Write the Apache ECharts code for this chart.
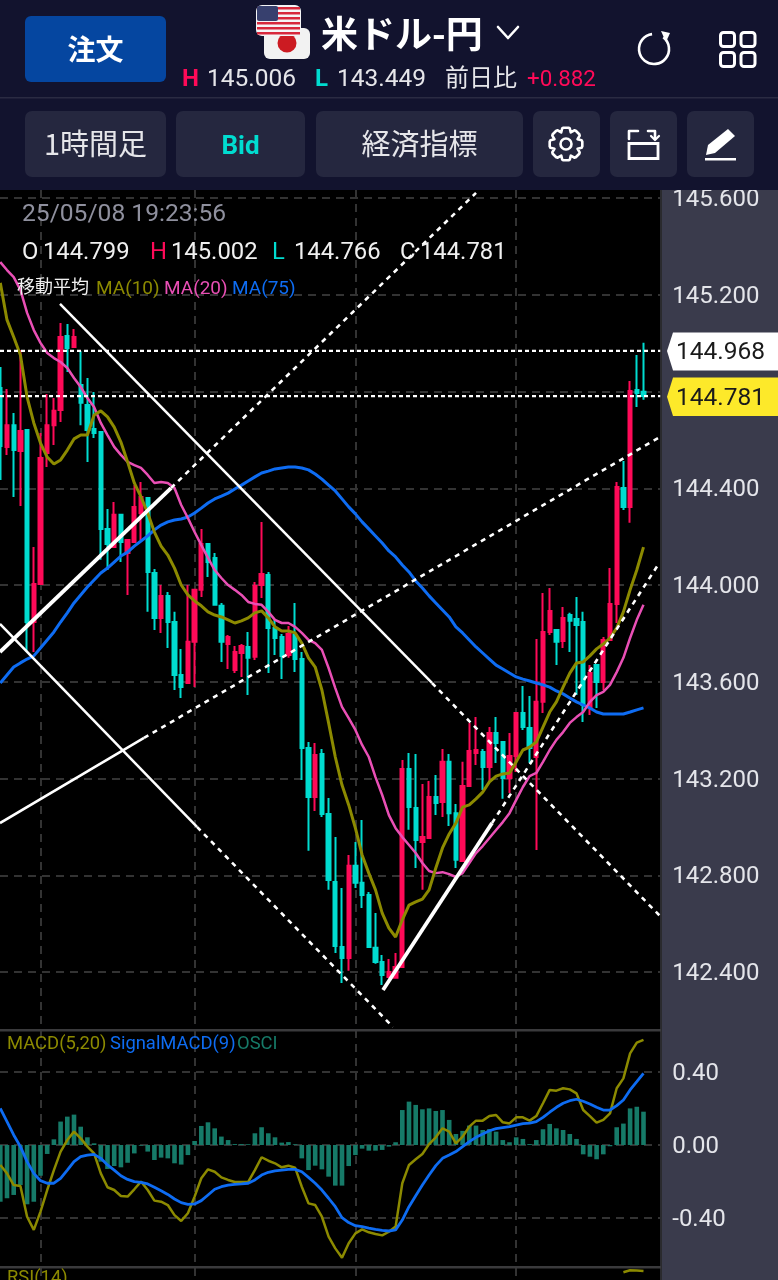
<!DOCTYPE html>
<html><head><meta charset="utf-8">
<style>html,body{margin:0;padding:0;background:#000}#c{width:778px;height:1280px}</style>
<script src="https://cdn.jsdelivr.net/npm/echarts@6/dist/echarts.min.js"></script>
</head><body><div id="c"></div>
<script>
const highs=[144.901,144.810,144.711,144.972,144.641,144.157,144.628,144.790,144.773,145.083,145.079,145.058,144.967,144.856,144.798,144.633,144.314,144.343,144.290,144.186,144.413,144.426,144.364,144.066,144.000,143.971,143.889,143.736,144.000,143.980,144.232,144.170,144.132,143.926,143.793,143.748,143.756,143.806,144.013,144.261,144.054,143.856,143.798,143.831,143.926,143.723,143.351,143.347,143.322,143.120,142.958,142.748,142.884,142.938,143.029,142.731,142.644,142.471,142.454,142.479,143.277,143.306,143.301,143.177,143.190,143.215,143.322,143.301,143.095,143.269,143.430,143.454,143.322,143.413,143.454,143.355,143.388,143.471,143.583,143.541,143.777,143.967,143.988,143.814,143.909,143.885,143.951,143.889,143.669,143.674,143.785,144.070,144.426,144.513,144.843,144.951,145.002];
const opens=[144.814,144.571,144.661,144.554,144.641,143.847,144.004,144.546,144.661,144.724,145.029,144.984,144.827,144.744,144.645,144.633,144.232,144.157,144.290,144.132,144.178,144.298,144.360,144.050,143.864,143.955,143.847,143.628,143.595,143.765,143.980,144.170,144.112,143.914,143.756,143.649,143.719,143.744,143.703,144.000,144.041,143.822,143.785,143.711,143.793,143.694,143.326,143.124,143.301,143.053,142.772,142.504,142.458,142.839,142.769,142.719,142.500,142.442,142.380,142.376,142.421,143.239,143.078,142.938,142.954,143.124,143.103,143.269,143.057,142.859,143.169,143.306,143.310,143.248,143.388,143.351,143.202,143.293,143.471,143.409,143.289,143.517,143.806,143.814,143.769,143.876,143.860,143.847,143.496,143.669,143.599,143.773,143.922,144.401,144.323,144.806,144.799];
const closes=[144.575,144.661,144.558,144.637,143.847,144.004,144.525,144.661,144.720,145.025,144.980,145.025,144.753,144.641,144.628,144.232,144.170,144.290,144.178,144.186,144.323,144.364,144.054,143.864,143.955,143.847,143.628,143.578,143.765,143.980,144.170,144.095,143.918,143.765,143.785,143.723,143.748,143.699,143.996,144.046,143.822,143.781,143.707,143.798,143.694,143.326,143.124,143.297,143.053,142.781,142.508,142.458,142.839,142.769,142.719,142.504,142.442,142.388,142.400,142.421,143.239,143.082,142.946,142.958,143.124,143.099,143.269,143.057,142.864,143.169,143.314,143.318,143.248,143.388,143.347,143.202,143.293,143.471,143.413,143.326,143.517,143.806,143.893,143.765,143.864,143.852,143.835,143.504,143.636,143.599,143.773,143.922,144.405,144.323,144.802,144.794,144.781];
const lows=[144.434,144.538,144.364,144.327,143.723,143.723,144.004,144.488,144.579,144.674,144.881,144.984,144.661,144.509,144.608,144.104,144.062,144.153,144.095,143.959,144.174,144.186,143.889,143.814,143.802,143.740,143.566,143.533,143.595,143.578,143.951,144.033,143.918,143.682,143.653,143.636,143.620,143.545,143.690,143.946,143.636,143.711,143.612,143.699,143.640,143.194,142.901,143.066,143.041,142.740,142.479,142.355,142.405,142.748,142.665,142.500,142.434,142.347,142.376,142.376,142.417,142.988,142.830,142.740,142.954,143.049,143.041,143.004,142.830,142.859,143.169,143.256,143.153,143.190,143.264,143.116,143.140,143.227,143.401,143.264,142.905,143.471,143.793,143.669,143.740,143.723,143.545,143.434,143.463,143.492,143.566,143.773,143.843,144.310,144.257,144.736,144.766];
const ma10=[145.249,145.096,145.025,144.951,144.777,144.670,144.587,144.529,144.500,144.517,144.558,144.604,144.620,144.620,144.703,144.720,144.695,144.653,144.591,144.509,144.422,144.364,144.298,144.219,144.161,144.124,144.070,144.000,143.959,143.934,143.914,143.889,143.876,143.868,143.856,143.843,143.852,143.864,143.885,143.893,143.864,143.827,143.810,143.810,143.802,143.760,143.699,143.661,143.566,143.430,143.289,143.173,143.091,142.995,142.884,142.809,142.740,142.644,142.582,142.545,142.616,142.677,142.690,142.702,142.740,142.830,142.913,142.971,143.016,143.082,143.091,143.116,143.144,143.186,143.210,143.219,143.223,143.269,143.318,143.330,143.351,143.413,143.475,143.517,143.578,143.636,143.678,143.682,143.707,143.736,143.756,143.781,143.822,143.889,143.980,144.062,144.157];
const ma20=[145.335,145.302,145.273,145.220,145.125,145.054,145.001,144.959,144.938,144.922,144.897,144.856,144.819,144.773,144.736,144.670,144.620,144.571,144.538,144.509,144.496,144.484,144.455,144.422,144.426,144.422,144.401,144.331,144.277,144.219,144.165,144.112,144.062,144.029,144.000,143.980,143.959,143.930,143.922,143.918,143.889,143.856,143.843,143.843,143.827,143.802,143.773,143.760,143.732,143.657,143.574,143.496,143.450,143.401,143.339,143.289,143.206,143.132,143.049,142.995,142.958,142.925,142.892,142.851,142.818,142.809,142.813,142.805,142.793,142.809,142.851,142.892,142.921,142.954,142.987,143.020,143.057,143.112,143.165,143.210,143.223,143.269,143.318,143.360,143.392,143.430,143.454,143.475,143.517,143.545,143.558,143.587,143.640,143.699,143.781,143.856,143.918];
const ma75=[143.595,143.628,143.661,143.678,143.694,143.707,143.740,143.773,143.806,143.847,143.885,143.926,143.959,143.992,144.021,144.050,144.070,144.095,144.120,144.136,144.161,144.182,144.203,144.228,144.248,144.261,144.269,144.273,144.281,144.298,144.318,144.339,144.356,144.368,144.380,144.397,144.413,144.430,144.447,144.463,144.471,144.480,144.484,144.488,144.488,144.484,144.476,144.459,144.438,144.413,144.389,144.356,144.323,144.294,144.261,144.232,144.203,144.174,144.141,144.116,144.083,144.054,144.017,143.988,143.955,143.926,143.897,143.868,143.827,143.802,143.773,143.744,143.719,143.694,143.669,143.653,143.636,143.620,143.611,143.603,143.595,143.587,143.578,143.562,143.550,143.533,143.517,143.504,143.492,143.475,143.467,143.467,143.467,143.467,143.475,143.484,143.492];
const macd=[-0.109,-0.155,-0.219,-0.224,-0.392,-0.464,-0.364,-0.246,-0.137,-0.036,0.027,0.073,0.036,-0.009,-0.046,-0.155,-0.231,-0.246,-0.279,-0.282,-0.242,-0.200,-0.246,-0.304,-0.310,-0.328,-0.383,-0.415,-0.373,-0.282,-0.182,-0.133,-0.146,-0.177,-0.191,-0.202,-0.202,-0.202,-0.137,-0.067,-0.086,-0.100,-0.122,-0.113,-0.124,-0.228,-0.319,-0.328,-0.392,-0.501,-0.565,-0.616,-0.537,-0.483,-0.461,-0.477,-0.486,-0.494,-0.474,-0.446,-0.209,-0.109,-0.078,-0.049,0.005,0.042,0.091,0.073,0.009,0.046,0.100,0.133,0.133,0.158,0.164,0.124,0.118,0.151,0.151,0.133,0.158,0.228,0.301,0.297,0.310,0.304,0.282,0.191,0.158,0.122,0.137,0.173,0.310,0.364,0.501,0.559,0.574];
const signal=[0.200,0.128,0.055,-0.009,-0.091,-0.155,-0.195,-0.209,-0.209,-0.182,-0.137,-0.091,-0.064,-0.055,-0.051,-0.073,-0.109,-0.137,-0.168,-0.188,-0.200,-0.204,-0.213,-0.231,-0.250,-0.270,-0.295,-0.315,-0.324,-0.322,-0.304,-0.273,-0.242,-0.228,-0.219,-0.215,-0.213,-0.209,-0.191,-0.164,-0.149,-0.142,-0.137,-0.133,-0.133,-0.146,-0.177,-0.209,-0.246,-0.291,-0.337,-0.397,-0.424,-0.441,-0.446,-0.454,-0.461,-0.466,-0.470,-0.464,-0.410,-0.337,-0.277,-0.219,-0.164,-0.113,-0.073,-0.055,-0.036,-0.009,0.018,0.042,0.060,0.078,0.089,0.095,0.100,0.109,0.117,0.120,0.128,0.151,0.179,0.206,0.228,0.242,0.250,0.239,0.224,0.206,0.191,0.191,0.215,0.246,0.301,0.346,0.392];
const osci=[-0.310,-0.291,-0.273,-0.219,-0.324,-0.310,-0.168,-0.049,0.031,0.128,0.155,0.166,0.100,0.042,0.009,-0.091,-0.131,-0.115,-0.122,-0.097,-0.046,-0.004,-0.036,-0.082,-0.069,-0.073,-0.100,-0.107,-0.055,0.022,0.104,0.124,0.091,0.046,0.027,0.005,0.005,0.004,0.064,0.097,0.064,0.042,0.013,0.016,0.004,-0.073,-0.137,-0.113,-0.133,-0.173,-0.222,-0.222,-0.115,-0.055,-0.020,-0.031,-0.031,-0.027,-0.009,0.015,0.191,0.237,0.219,0.195,0.200,0.186,0.191,0.137,0.060,0.077,0.106,0.106,0.082,0.087,0.073,0.027,0.015,0.042,0.033,0.005,0.027,0.086,0.115,0.091,0.082,0.060,0.033,-0.051,-0.064,-0.078,-0.051,-0.007,0.097,0.117,0.200,0.209,0.182];
const rsiVisible=[[93,92.9],[94,96.25],[95,96.0],[96,95.2]];
const priceTicks=[142.4,142.8,143.2,143.6,144.0,144.4,144.8,145.2,145.6];
const macdTicks=[-0.4,0,0.4];
const dayLines=[6,29,53,77];
const currentBid=144.968, lastClose=144.781;
// drawn trend lines: [bar index, price]
const solidA=[[-0.05,143.723],[25.48,144.401]], dashA=[[25.48,144.401],[71.0,145.621]];
const solidB=[[8.91,145.162],[64.43,143.595]], dashB=[[64.43,143.595],[98.46,142.632]];
const solidC=[[-0.05,143.839],[29.36,143.000]], dashC=[[29.36,143.000],[58.61,142.173]];
const solidD=[[-0.05,143.016],[21.45,143.368]], dashD=[[21.45,143.368],[98.46,144.612]];
const solidE=[[57.12,142.326],[73.39,143.016]], dashE=[[73.39,143.016],[98.16,144.083]];

const FF='Roboto,"Noto Sans CJK JP",sans-serif', JP='"Noto Sans CJK JP",Roboto,sans-serif';
const RED='#ff0a58',CY='#00dcd0',OL='#8c8a00',PK='#e94fb5',BL='#0e6cf2',TEAL='#167a68',GRIDC='#333333',WH='#ffffff';
const withIndex=a=>a.map((v,i)=>[i,v]);
const cand=highs.map((h,i)=>[i,opens[i],closes[i],lows[i],h]);
const GT=[190,1030,1268],GH=[840,237,240];
const gridLine={show:true,lineStyle:{color:GRIDC,width:2,type:[8,6]}};
function xAx(g){return {type:'value',gridIndex:g,min:-0.045,max:98.5,axisLine:{show:false},axisLabel:{show:false},axisTick:{show:false,customValues:dayLines},splitLine:gridLine};}
function lineS(data,color,width,xi,z,dash){return {type:'line',xAxisIndex:xi,yAxisIndex:xi,data:data,symbol:'none',silent:true,clip:true,z:z,
 lineStyle:{color:color,width:width,type:dash||'solid',cap:'butt'},animation:false};}
const DASH=[5,5];
const series=[
 {type:'bar',xAxisIndex:1,yAxisIndex:1,data:withIndex(osci),barWidth:4.6,itemStyle:{color:TEAL},z:2,silent:true,animation:false},
 {type:'candlestick',xAxisIndex:0,yAxisIndex:0,data:cand,barWidth:3.8,z:2,silent:true,animation:false,
  itemStyle:{color:RED,color0:CY,borderColor:RED,borderColor0:CY,borderWidth:2}},
 lineS(withIndex(ma75),BL,3,0,3),lineS(withIndex(ma20),PK,2.5,0,3),lineS(withIndex(ma10),OL,3,0,3),
 lineS(withIndex(macd),OL,2.5,1,3),lineS(withIndex(signal),BL,2.8,1,3),
 lineS(rsiVisible,OL,2.5,2,3),
 lineS(solidA,WH,3.8,0,4),lineS(solidB,WH,2.5,0,4),lineS(solidC,WH,2.5,0,4),lineS(solidD,WH,2.5,0,4),lineS(solidE,WH,3.8,0,4),
 lineS(dashA,WH,2.6,0,4,DASH),lineS(dashB,WH,2.6,0,4,DASH),lineS(dashC,WH,2.6,0,4,DASH),lineS(dashD,WH,2.6,0,4,DASH),lineS(dashE,WH,2.6,0,4,DASH),
 lineS([[-0.045,currentBid],[98.5,currentBid]],WH,2.2,0,4,[4,3]),
 lineS([[-0.045,lastClose],[98.5,lastClose]],WH,2.2,0,4,[4,3])
];
function T(t,x,y,s,c,o){o=o||{};const yy=(o.f===JP)?y:y+2;return {type:'text',z:o.z||100,style:{text:t,x:x,y:yy,fill:c,align:o.a||'left',verticalAlign:'middle',font:(o.b?'bold ':'')+s+'px '+(o.f||FF)}};}
function R(x,y,w,h,c,r,z){return {type:'rect',z:z||99,shape:{x:x,y:y,width:w,height:h,r:r||0},style:{fill:c}};}
function SR(x,y,w,h,r){return {type:'rect',z:100,shape:{x:x,y:y,width:w,height:h,r:r},style:{fill:'none',stroke:WH,lineWidth:3}};}
function LN(pts,w,c){return {type:'polyline',z:100,shape:{points:pts},style:{fill:'none',stroke:c||WH,lineWidth:w,lineCap:'round',lineJoin:'round'}};}
const HB='#12132e',BTN='#25273f';
const g=[
 R(661,190,117,1090,'#3a3b4c',0,-1),
 R(660,190,2,1090,'#2a2a2e',0,1),
 R(0,1029,661,2.4,'#3a3a3c',0,5),R(0,1266,661,2.4,'#3a3a3c',0,5),
 R(0,0,778,190,HB),R(0,97,778,1.5,'#2a2b42'),
 R(25,16,141,66,'#0546a0',6),T('注文',95.5,49,28,WH,{a:'center',b:1,f:JP}),
 R(264,28,46,31,'#f2f2f2',6),{type:'circle',z:100,shape:{cx:287,cy:43,r:9.5},style:{fill:'#cc1b22'}},
 R(256,5,45,31,'#f4f4f6',6,100),
 ...[0,1,2,3,4,5].map(k=>R(257,7+k*5,43,2.6,'#d8283c',0,101)),
 R(257,6,21,15,'#37406e',2,102),
 T('米ドル-円',321,34,37,WH,{b:1,f:JP}),
 LN([[498,27],[508,38],[518,27]],2.6),
 T('H',182,78,24,RED,{b:1}),T('145.006',207,78,24.5,'#e6e6ea'),
 T('L',315,78,24,CY,{b:1}),T('143.449',337,78,24.5,'#e6e6ea'),
 T('前日比',445,77,24,'#e6e6ea',{f:JP}),T('+0.882',527,78,22.4,RED),
 {type:'arc',z:100,shape:{cx:654,cy:49,r:15,startAngle:-0.9,endAngle:-1.7,clockwise:true},style:{fill:'none',stroke:WH,lineWidth:2.6}},
 {type:'polygon',z:100,shape:{points:[[661,31],[670,33],[666,42]]},style:{fill:WH}},
 SR(720.5,32.5,14,14,3),SR(741,32.5,14,14,3),SR(720.5,52.5,14,14,3),SR(741,52.5,14,14,3),
 R(25,111,141,66,BTN,7),T('1時間足',95.5,144,29,'#e6e6ea',{a:'center',f:JP}),
 R(176,111,129,66,BTN,7),T('Bid',240.5,145,26,CY,{a:'center',b:1}),
 R(316,111,207,66,BTN,7),T('経済指標',419.5,144,29,'#e6e6ea',{a:'center',f:JP}),
 R(533,111,67,66,BTN,7),R(610,111,67,66,BTN,7),R(687,111,67,66,BTN,7),
 {type:'polygon',z:100,shape:{points:(()=>{const p=[];for(let k=0;k<8;k++){const a=k*Math.PI/4;[[-0.24,16],[-0.15,16.5],[0.15,16.5],[0.24,16],[0.39,12.5]].forEach(v=>p.push([566+v[1]*Math.cos(a+v[0]),144+v[1]*Math.sin(a+v[0])]));}return p;})()},style:{fill:'none',stroke:WH,lineWidth:2.6,lineJoin:'round'}},
 {type:'circle',z:100,shape:{cx:566,cy:144,r:5.5},style:{fill:'none',stroke:WH,lineWidth:2.6}},
 {type:'rect',z:100,shape:{x:629,y:143.5,width:29,height:15},style:{fill:'none',stroke:WH,lineWidth:2.8}},
 LN([[629,139],[629,131],[638,131]],2.6),LN([[648,131],[655,131],[655,139]],2.6),LN([[651,136],[655,140],[659,136]],2.2),
 {type:'polygon',z:100,shape:{points:[[728,129],[735,136],[715,153],[706,155],[708,145]]},style:{fill:WH}},
 R(705,158,31,2.5,WH,0,100),
 T('25/05/08 19:23:56',22,213,24.6,'#8f909e',{z:10}),
 T('O',22,251.5,23.8,'#f0f0f0',{z:10}),T('144.799',43,251.5,23.8,'#f0f0f0',{z:10}),
 T('H',150,251.5,23.8,RED,{z:10}),T('145.002',171,251.5,23.8,'#f0f0f0',{z:10}),
 T('L',272,251.5,23.8,CY,{z:10}),T('144.766',294,251.5,23.8,'#f0f0f0',{z:10}),
 T('C',400,251.5,23.8,'#f0f0f0',{z:10}),T('144.781',420,251.5,23.8,'#f0f0f0',{z:10}),
 T('移動平均',17,286,18,'#f0f0f0',{z:10,f:JP}),T('MA(10)',96,287,19,OL,{z:10}),T('MA(20)',164,287,19,PK,{z:10}),T('MA(75)',232,287,19,BL,{z:10}),
 T('MACD(5,20)',7,1042,18.4,OL,{z:10}),T('SignalMACD(9)',110,1042,18.4,BL,{z:10}),T('OSCI',237,1042,18.4,TEAL,{z:10}),
 T('RSI(14)',7,1276,18.4,OL,{z:10}),
 {type:'polygon',z:20,shape:{points:[[667,351],[673,332.5],[778,332.5],[778,370.5],[673,370.5]]},style:{fill:'#ffffff'}},
 T('144.968',676,351,24.5,'#1a1a1a',{z:21}),
 {type:'polygon',z:20,shape:{points:[[667,396.7],[673,377.5],[778,377.5],[778,416],[673,416]]},style:{fill:'#fde92a'}},
 T('144.781',676,397,24.5,'#1a1a1a',{z:21})
];
const yLabel=(d)=>({show:true,margin:12,align:'left',formatter:v=>'{a|'+v.toFixed(d)+'}',
 rich:{a:{color:'#e4e5ea',fontSize:24,fontFamily:'Roboto',padding:[4,0,0,0],align:'left'}}});
const chart=echarts.init(document.getElementById('c'),null,{renderer:'canvas'});
chart.setOption({
 animation:false,backgroundColor:'#000000',
 grid:[0,1,2].map(i=>({left:0,top:GT[i],width:660.25,height:GH[i],containLabel:false})),
 xAxis:[xAx(0),xAx(1),xAx(2)],
 yAxis:[
  {type:'value',gridIndex:0,position:'right',min:142.1605,max:145.633,axisLine:{show:false},axisTick:{show:false,customValues:priceTicks},axisLabel:{...yLabel(3),customValues:priceTicks},splitLine:gridLine},
  {type:'value',gridIndex:1,position:'right',min:-0.6667,max:0.6284,axisLine:{show:false},axisTick:{show:false,customValues:macdTicks},axisLabel:{...yLabel(2),customValues:macdTicks},splitLine:gridLine},
  {type:'value',gridIndex:2,position:'right',min:0,max:100,axisLine:{show:false},axisTick:{show:false},axisLabel:{show:false},splitLine:{show:false}}
 ],
 tooltip:{show:false},legend:{show:false},
 series:series,graphic:{elements:g}
});
</script></body></html>
